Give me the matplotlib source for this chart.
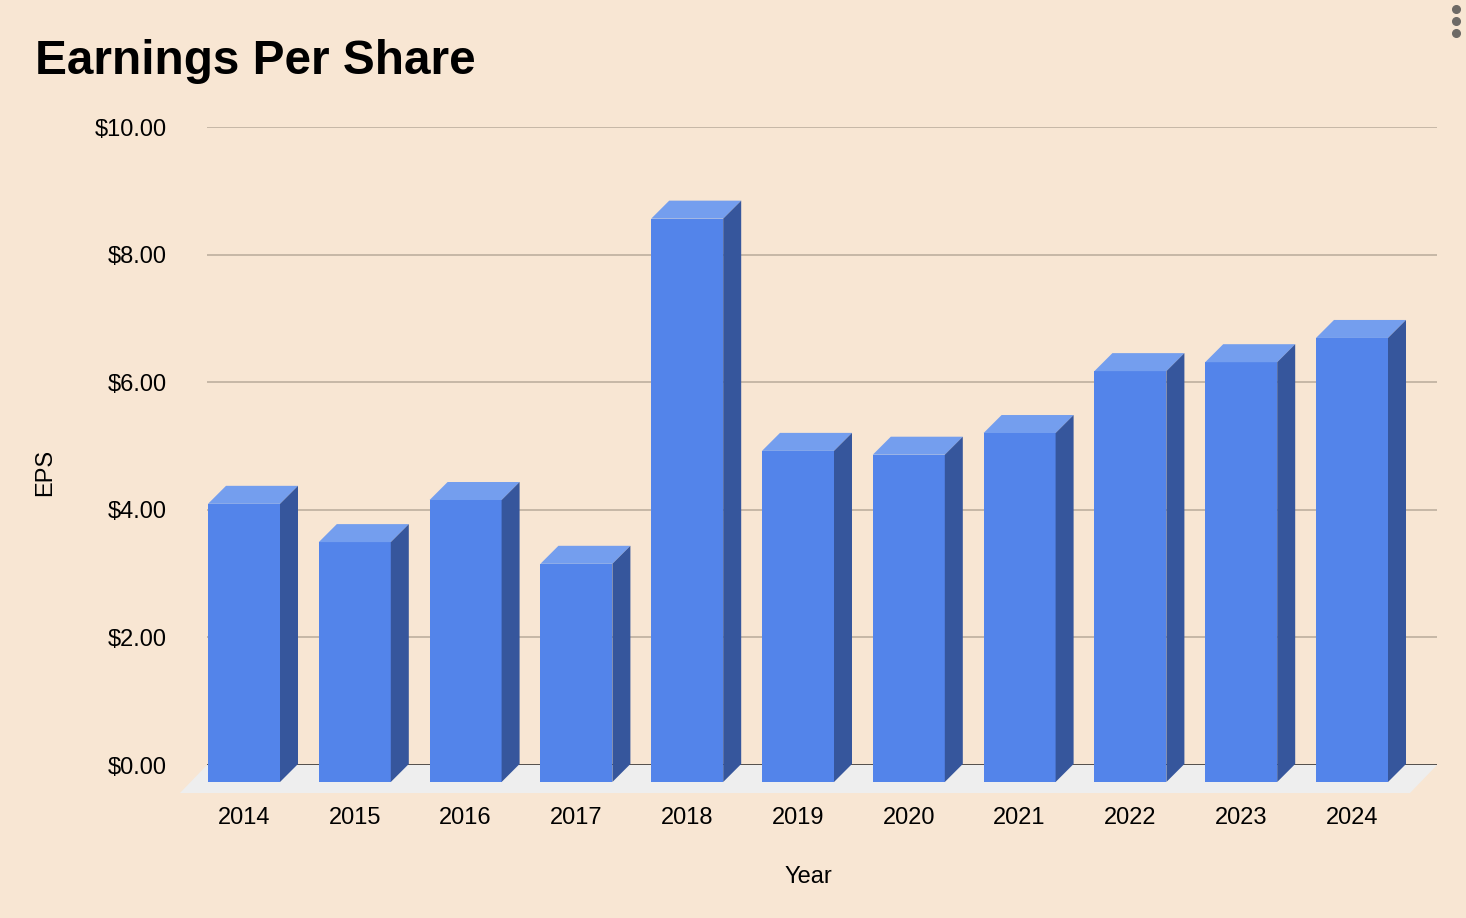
import numpy as np
import matplotlib.pyplot as plt
from matplotlib.patches import Polygon, Rectangle
from matplotlib.lines import Line2D

# Données
annees = ["2014", "2015", "2016", "2017", "2018", "2019", "2020", "2021", "2022", "2023", "2024"]
eps = [4.36, 3.76, 4.42, 3.42, 8.83, 5.19, 5.13, 5.47, 6.44, 6.58, 6.96]
yticks = [0, 2, 4, 6, 8, 10]
ytick_labels = ["$0.00", "$2.00", "$4.00", "$6.00", "$8.00", "$10.00"]

# Couleurs
fond = "#F8E6D3"
face = "#5384EA"
dessus = "#749EEE"
cote = "#36569C"
sol = "#EEEEEE"
grille = "#C2B4A3"

plt.rcParams['font.family'] = ['Liberation Sans', 'DejaVu Sans']

W, H = 1466, 918
fig = plt.figure(figsize=(W / 100, H / 100), dpi=100, facecolor=fond)
# zone du graphique : x 207 -> 1437, y 127 -> 765 (pixels)
ax = fig.add_axes([207 / W, (H - 765) / H, (1437 - 207) / W, (765 - 127) / H])
ax.set_facecolor(fond)

# échelle : 110.8 px par barre, 63.8 px par dollar
px_x, px_y = 110.8, 63.8
xmin, xmax = -37 / px_x, 10 + 85 / px_x
ax.set_xlim(xmin, xmax)
ax.set_ylim(0, 10)

larg = 72 / px_x         # largeur de la face avant
prof_x = 18 / px_x       # profondeur des barres
prof_y = 18 / px_y
bas = -17 / px_y         # bas de la face avant

# Sol gris
sx, sy = 27 / px_x, 28 / px_y
ax.add_patch(Polygon([(xmin, 0), (xmax, 0), (xmax - sx, -sy), (xmin - sx, -sy)],
                     closed=True, facecolor=sol, edgecolor="none", clip_on=False, zorder=1))

# Grille
for t in yticks[1:]:
    ax.axhline(t, color=grille, lw=1.3, zorder=2)
ax.axhline(0, color="#222222", lw=1.8, zorder=3)

# Barres 3D
for i, v in enumerate(eps):
    x0 = i - larg / 2
    x1 = i + larg / 2
    haut = bas + v
    ax.add_patch(Rectangle((x0, bas), larg, v, facecolor=face, edgecolor="none",
                           clip_on=False, zorder=5))
    ax.add_patch(Polygon([(x0, haut), (x1, haut), (x1 + prof_x, haut + prof_y), (x0 + prof_x, haut + prof_y)],
                         closed=True, facecolor=dessus, edgecolor="none", clip_on=False, zorder=5))
    ax.add_patch(Polygon([(x1, bas), (x1 + prof_x, bas + prof_y), (x1 + prof_x, haut + prof_y), (x1, haut)],
                         closed=True, facecolor=cote, edgecolor="none", clip_on=False, zorder=5))

# Axes
ax.set_xticks(range(len(annees)))
ax.set_xticklabels(annees, fontsize=17)
ax.set_yticks(yticks)
ax.set_yticklabels(ytick_labels, fontsize=17)
ax.tick_params(axis='x', length=0, pad=30)
ax.tick_params(axis='y', length=0, pad=29)
for s in ax.spines.values():
    s.set_visible(False)

# Titres
fig.text(35 / W, 1 - 74 / H, "Earnings Per Share", fontsize=34.4, fontweight="bold",
         ha="left", va="baseline")
fig.text(808 / W, 1 - 877 / H, "Year", fontsize=17, ha="center", va="center")
fig.text(45 / W, 1 - 472 / H, "EPS", fontsize=17, rotation=90, ha="center", va="center")

# Menu (trois points)
for yy in [9, 21, 33]:
    fig.add_artist(Line2D([1456 / W], [1 - yy / H], marker="o", markersize=5.5,
                          color="#6E6A66", transform=fig.transFigure))

plt.savefig("out.png", dpi=100, facecolor=fond)
